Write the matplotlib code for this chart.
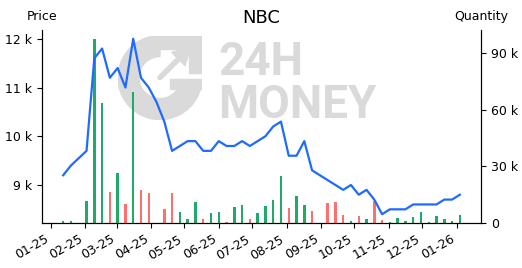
import numpy as np
import pandas as pd
import matplotlib
matplotlib.use("Agg")
import matplotlib.pyplot as plt
import matplotlib.dates as mdates
from matplotlib.ticker import MultipleLocator, FuncFormatter
from matplotlib.patches import Wedge, Rectangle, Polygon

# weekly data, Tet week (2025-01-26) has no trading
dates = pd.date_range("2025-01-12", periods=52, freq="7D")
dates = dates.drop(pd.Timestamp("2025-01-26"))

price = [9200, 9400, 9700, 11600, 11800, 11200, 11400, 11000, 12000, 11200,
         11000, 10700, 10300, 9700, 9800, 9900, 9900, 9700, 9700, 9900,
         9800, 9800, 9900, 9800, 9900, 10000, 10200, 10300, 9600, 9600,
         9900, 9300, 9200, 9100, 9000, 8900, 9000, 8800, 8900, 8700,
         8400, 8500, 8500, 8500, 8600, 8600, 8600, 8600, 8700, 8700, 8800]

volume = [1000, 1000, 11700, 97300, 63300, 16500, 26500, 10200, 69100, 17600,
          15800, 0, 7500, 15900, 5900, 2300, 11200, 2100, 5300, 5900,
          700, 8600, 9600, 2300, 5400, 9100, 12300, 24900, 8100, 14400,
          9600, 6500, 0, 10700, 11200, 4400, 1000, 3800, 2300, 11800,
          1700, 500, 2800, 1200, 3300, 5900, 700, 3800, 2300, 1200, 4400]

GREEN = "#1faa6b"
RED = "#ff6f6f"
BLUE = "#1f6bff"
GRAY = "#dadada"

# up / down week colour
bar_colors = [GREEN] + [GREEN if price[i] >= price[i - 1] else RED
                        for i in range(1, len(price))]

fig = plt.figure(figsize=(5.22, 2.68), dpi=100)

# watermark logo (drawn behind everything)
logo = fig.add_axes([0.226, 0.552, 0.161, 0.317], zorder=-1)
logo.set_xlim(-1, 1)
logo.set_ylim(-1, 1)
logo.set_aspect("equal")
logo.axis("off")
logo.add_patch(Wedge((0, 0), 1, 90, 355, width=0.5, color=GRAY))
logo.add_patch(Rectangle((0, 0.68), 1, 0.32, color=GRAY))
logo.add_patch(Rectangle((0.7, 0.1), 0.3, 0.9, color=GRAY))
logo.add_patch(Rectangle((0.25, -0.28), 0.75, 0.25, color=GRAY))
logo.plot([0, 0.45], [0, 0.45], color=GRAY, lw=4, solid_capstyle="round")
logo.add_patch(Polygon([(0.72, 0.72), (0.28, 0.6), (0.6, 0.28)], color=GRAY))
fig.text(0.418, 0.72, "24H", fontsize=33, fontweight="bold", family="Roboto",
         color=GRAY, zorder=-1, va="baseline")
fig.text(0.418, 0.56, "MONEY", fontsize=33, fontweight="bold", family="Roboto",
         color=GRAY, zorder=-1, va="baseline")

ax = fig.add_axes([0.0805, 0.168, 0.841, 0.720])
ax2 = ax.twinx()
ax.set_zorder(1)
ax.patch.set_visible(False)

ax2.bar(dates, volume, width=2.2, color=bar_colors)
ax.plot(dates, price, color=BLUE, lw=1.6)

ax.yaxis.set_major_locator(MultipleLocator(1000))
ax.yaxis.set_major_formatter(FuncFormatter(lambda v, p: f"{v / 1000:.0f} k"))
ax2.yaxis.set_major_locator(MultipleLocator(30000))
ax2.yaxis.set_major_formatter(
    FuncFormatter(lambda v, p: "0" if v == 0 else f"{v / 1000:.0f} k"))

ax.xaxis.set_major_locator(mdates.MonthLocator())
ax.xaxis.set_major_formatter(mdates.DateFormatter("%m-%y"))
plt.setp(ax.get_xticklabels(), rotation=30, ha="right")

ax.tick_params(labelsize=9)
ax2.tick_params(labelsize=9)
for a in (ax, ax2):
    a.spines["top"].set_visible(False)

ax.set_title("NBC", fontsize=13, pad=5)
ax.text(0, 1.05, "Price", transform=ax.transAxes, ha="center",
        va="baseline", fontsize=9)
ax.text(1, 1.05, "Quantity", transform=ax.transAxes, ha="center",
        va="baseline", fontsize=9)

fig.savefig("out.png", dpi=100)
